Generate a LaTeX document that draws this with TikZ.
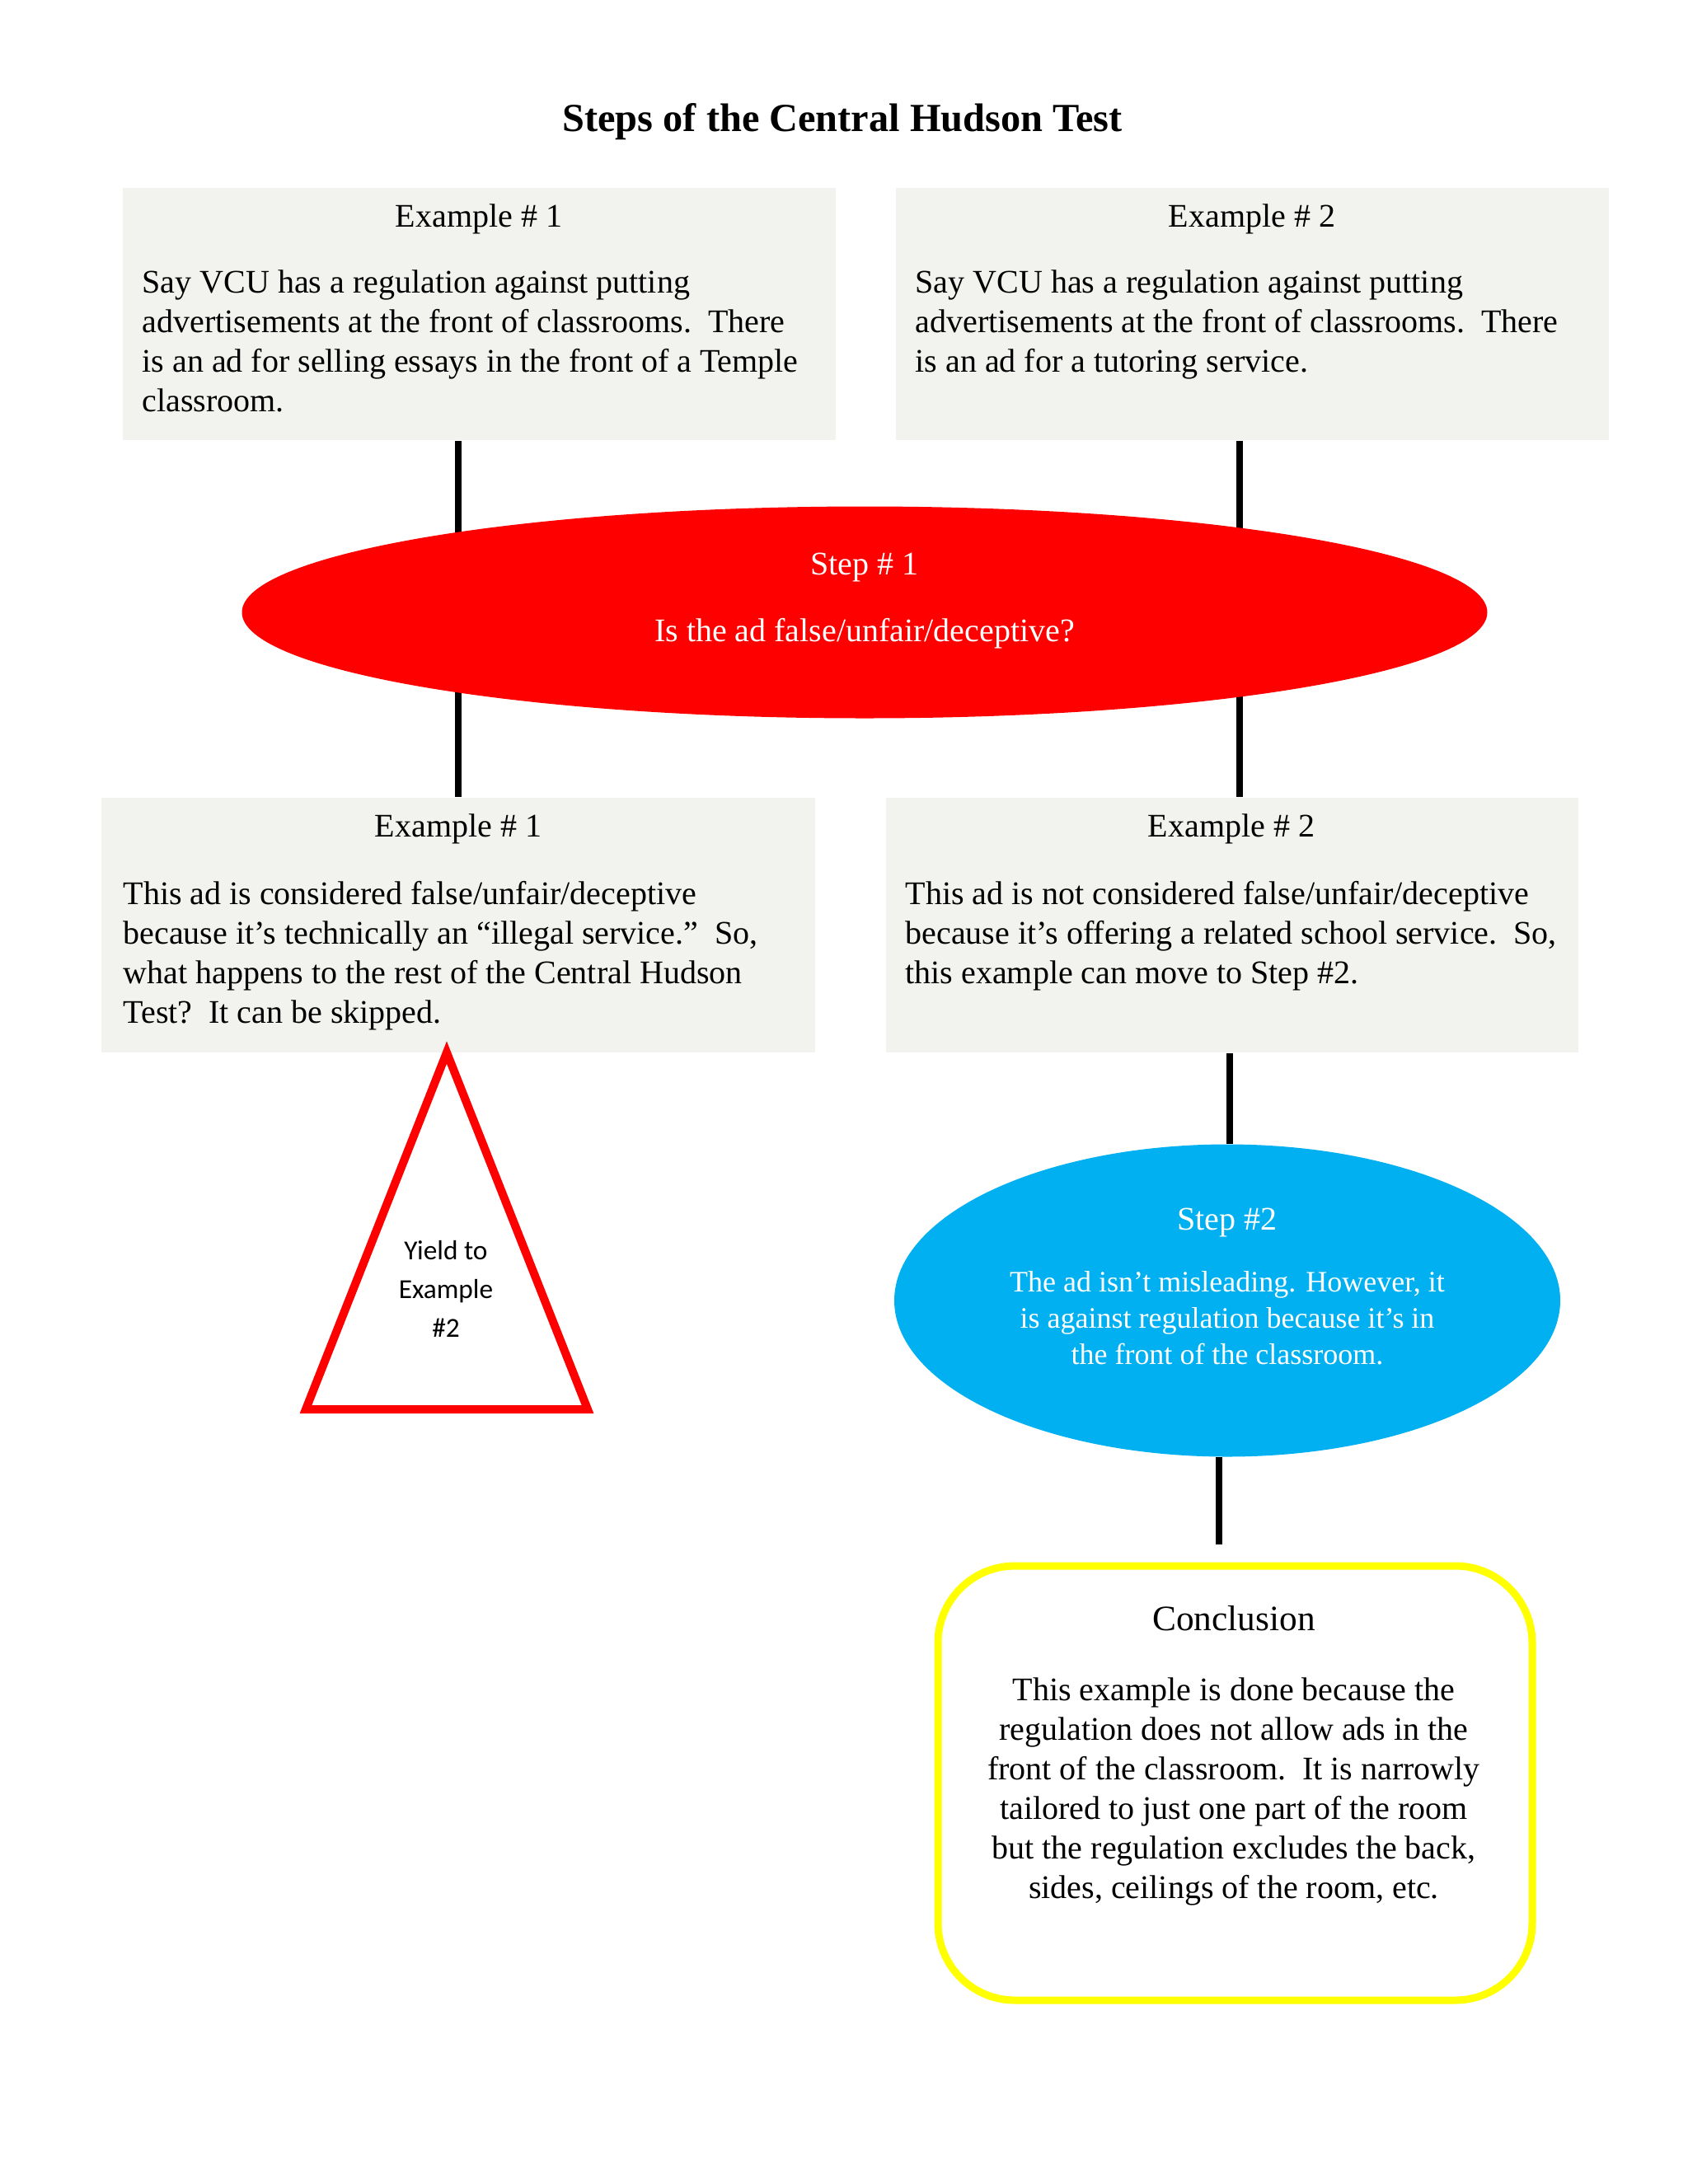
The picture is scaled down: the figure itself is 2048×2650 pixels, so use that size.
\documentclass[tikz,border=0pt]{standalone}
\usepackage{fontspec}
\setmainfont{Liberation Serif}
\newfontfamily\calfont{Carlito}
\usetikzlibrary{shapes.geometric,backgrounds,calc}
\definecolor{boxgray}{RGB}{242,242,238}
\definecolor{stepred}{RGB}{255,0,0}
\definecolor{stepblue}{RGB}{0,176,240}
\definecolor{conyellow}{RGB}{255,255,0}
\newcommand\bodyf{\fontsize{12}{14.4}\selectfont}
\newcommand\smallbodyf{\fontsize{10.8}{13.2}\selectfont}
\tikzset{
  exbox/.style={rectangle, fill=boxgray, draw=none, inner sep=0pt},
  stepell/.style={ellipse, draw=none, inner sep=0pt},
  conn/.style={line width=2.5pt, black},
  headtext/.style={font=\bodyf, inner sep=0pt, anchor=center},
  bodyleft/.style={font=\bodyf, inner sep=0pt, align=left, anchor=west},
  bodycenter/.style={font=\bodyf, inner sep=0pt, align=center, anchor=center},
}
\begin{document}
\begin{tikzpicture}[x=0.3pt,y=-0.3pt]
\useasboundingbox (0,0) rectangle (2048,2650);

% title
\node[font=\fontsize{14.5}{17}\selectfont\bfseries, inner sep=0pt] (title) at (1022,148) {\strut Steps of the Central Hudson Test\strut};

% top boxes
\node[exbox, minimum width=259.5pt, minimum height=91.8pt] (box1) at (581.5,381) {};
\node[exbox, minimum width=259.5pt, minimum height=91.8pt] (box2) at (1519.5,381) {};
\node[headtext] (h1) at (581,265.5) {\strut Example \# 1\strut};
\node[headtext] (h2) at (1519,265.5) {\strut Example \# 2\strut};
\node[bodyleft] (t1) at (172,418) {\strut Say VCU has a regulation against putting\\
advertisements at the front of classrooms.\ \ There\\
is an ad for selling essays in the front of a Temple\\
classroom.\strut};
\node[bodyleft] (t2) at (1110,393.5) {\strut Say VCU has a regulation against putting\\
advertisements at the front of classrooms.\ \ There\\
is an ad for a tutoring service.\strut};

% step 1
\node[stepell, fill=stepred, minimum width=453.3pt, minimum height=77.1pt] (e1) at (1049,743) {};
\node[headtext, text=white] (s1h) at (1049,687.5) {\strut Step \# 1\strut};
\node[headtext, text=white] (s1t) at (1049,768.5) {\strut Is the ad false/unfair/deceptive?\strut};

% middle boxes
\node[exbox, minimum width=259.8pt, minimum height=92.7pt] (box3) at (556,1122.5) {};
\node[exbox, minimum width=252pt, minimum height=92.7pt] (box4) at (1495,1122.5) {};
\node[headtext] (h3) at (556,1005.5) {\strut Example \# 1\strut};
\node[headtext] (h4) at (1494,1005.5) {\strut Example \# 2\strut};
\node[bodyleft] (t3) at (149,1159.5) {\strut This ad is considered false/unfair/deceptive\\
because it’s technically an “illegal service.”\ \ So,\\
what happens to the rest of the Central Hudson\\
Test?\ \ It can be skipped.\strut};
\node[bodyleft] (t4) at (1098,1135.5) {\strut This ad is not considered false/unfair/deceptive\\
because it’s offering a related school service.\ \ So,\\
this example can move to Step \#2.\strut};

% yield triangle
\coordinate (ta) at (542,1277);
\coordinate (tl) at (371,1710);
\coordinate (tr) at (713,1710);
\draw[stepred, line width=3pt, line join=miter] (ta) -- (tl) -- (tr) -- cycle;
\node[font=\calfont\fontsize{10}{14}\selectfont, inner sep=0pt, align=center] (yield) at (541,1566) {\strut Yield to\\ Example\\ \#2\strut};

% step 2
\node[stepell, fill=stepblue, minimum width=242.4pt, minimum height=113.7pt] (e2) at (1489,1578) {};
\node[headtext, text=white] (s2h) at (1489,1482.5) {\strut Step \#2\strut};
\node[font=\smallbodyf, inner sep=0pt, align=center, text=white] (s2t) at (1489,1602.5) {\strut The ad isn’t misleading. However, it\\
is against regulation because it’s in\\
the front of the classroom.\strut};

% conclusion
\node[rectangle, draw=conyellow, line width=2.7pt, rounded corners=28pt, fill=white, minimum width=216.3pt, minimum height=158.1pt, inner sep=0pt] (concl) at (1498.5,2163.5) {};
\node[font=\fontsize{13}{15.6}\selectfont, inner sep=0pt] (ch) at (1497,1968.5) {\strut Conclusion\strut};
\node[bodycenter] (ct) at (1497,2174) {\strut This example is done because the\\
regulation does not allow ads in the\\
front of the classroom.\ \ It is narrowly\\
tailored to just one part of the room\\
but the regulation excludes the back,\\
sides, ceilings of the room, etc.\strut};

% connectors
\begin{pgfonlayer}{background}
\draw[conn] (box3.north |- box1.south) -- (box3.north);
\draw[conn] ([xshift=-4.65pt]box2.south) -- ([xshift=-4.65pt]box2.south |- box4.north);
\draw[conn] ([xshift=-0.9pt]box4.south) -- ([xshift=-0.9pt]box4.south |- e2.north);
\draw[conn, shorten >=6.5pt] ([xshift=-3pt]e2.south) -- ([xshift=-3pt]e2.south |- concl.north);
\end{pgfonlayer}
\end{tikzpicture}
\end{document}
